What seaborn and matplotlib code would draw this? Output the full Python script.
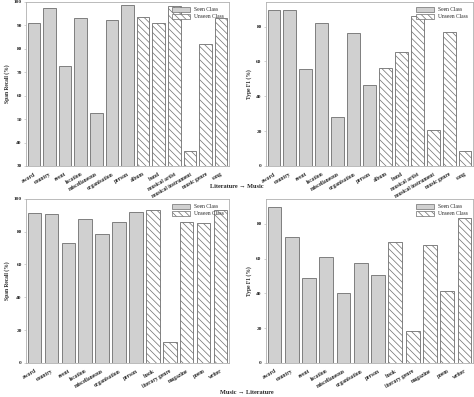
import pandas as pd
import matplotlib
matplotlib.use("Agg")
import matplotlib.pyplot as plt
import seaborn as sns
from matplotlib.patches import Patch

# seen classes shared by both directions
seen_classes = ["award", "country", "event", "location", "miscellaneous",
                "organisation", "person"]

# Literature -> Music
music_unseen = ["album", "band", "musical artist", "musical instrument",
                "music genre", "song"]
lm_recall = [91.0, 97.4, 72.5, 93.0, 52.5, 92.3, 98.7,
             93.4, 91.0, 98.3, 36.2, 82.0, 93.2]
lm_f1 = [89.7, 89.3, 55.8, 82.2, 27.9, 76.5, 46.3,
         56.4, 65.5, 86.4, 20.7, 76.9, 8.7]

# Music -> Literature
lit_unseen = ["book", "literary genre", "magazine", "poem", "writer"]
ml_recall = [91.2, 90.8, 73.3, 87.8, 78.6, 86.2, 91.9,
             93.1, 13.0, 86.0, 85.1, 93.0]
ml_f1 = [89.9, 72.6, 48.7, 61.0, 40.4, 57.3, 50.7,
         69.7, 18.3, 68.0, 41.4, 83.5]

sns.set_style("white")
plt.rcParams["font.family"] = ["Liberation Serif", "DejaVu Sans"]
plt.rcParams["hatch.linewidth"] = 0.5

SEEN_COLOR = "#d0d0d0"
EDGE = "#6e6e6e"
SPINE = "#b0b0b0"
HATCH = "\\\\\\\\\\"


def make_frame(unseen, values):
    cats = seen_classes + unseen
    kind = ["Seen Class"] * len(seen_classes) + ["Unseen Class"] * len(unseen)
    return pd.DataFrame({"category": cats, "value": values, "kind": kind})


def draw_panel(ax, df, ylabel, ylim=None):
    sns.barplot(data=df, x="category", y="value", hue="kind", dodge=False,
                palette={"Seen Class": SEEN_COLOR, "Unseen Class": "white"},
                edgecolor=EDGE, linewidth=0.6, width=0.8, legend=False, ax=ax)
    n_seen = len(seen_classes)
    # hatch the unseen bars (everything right of the seen block)
    for bar in ax.patches:
        if bar.get_height() == 0:
            continue
        idx = round(bar.get_x() + bar.get_width() / 2)
        if idx >= n_seen:
            bar.set_facecolor("white")
            bar.set_hatch(HATCH)
            bar.set_edgecolor(EDGE)
    if ylim is not None:
        ax.set_ylim(*ylim)
    ax.set_xlabel("")
    ax.set_ylabel(ylabel, fontsize=4, fontweight="bold", labelpad=3)
    ax.tick_params(axis="y", labelsize=3.8, length=1.5, width=0.4, pad=1.5,
                   color=SPINE, left=True)
    ax.tick_params(axis="x", labelsize=4, length=0, pad=4)
    for lbl in ax.get_xticklabels():
        lbl.set_rotation(30)
        lbl.set_ha("right")
        lbl.set_rotation_mode("anchor")
    for lbl in ax.get_xticklabels() + ax.get_yticklabels():
        lbl.set_fontweight("bold")
    for s in ax.spines.values():
        s.set_color(SPINE)
        s.set_linewidth(0.6)
    handles = [Patch(facecolor=SEEN_COLOR, edgecolor=EDGE, linewidth=0.5,
                     label="Seen Class"),
               Patch(facecolor="white", edgecolor=EDGE, linewidth=0.5,
                     hatch=HATCH, label="Unseen Class")]
    ax.legend(handles=handles, loc="upper right", frameon=False,
              fontsize=4, handlelength=3.2, handleheight=0.9,
              borderaxespad=0.5, labelspacing=0.35, handletextpad=0.8)


fig = plt.figure(figsize=(4.74, 3.97), dpi=100)
ax_tl = fig.add_axes([0.055, 0.582, 0.428, 0.413])
ax_tr = fig.add_axes([0.561, 0.582, 0.437, 0.413])
ax_bl = fig.add_axes([0.055, 0.086, 0.428, 0.413])
ax_br = fig.add_axes([0.561, 0.086, 0.437, 0.413])

draw_panel(ax_tl, make_frame(music_unseen, lm_recall), "Span Recall (%)", (30, 100))
draw_panel(ax_tr, make_frame(music_unseen, lm_f1), "Type F1 (%)")
draw_panel(ax_bl, make_frame(lit_unseen, ml_recall), "Span Recall (%)", (0, 100))
draw_panel(ax_br, make_frame(lit_unseen, ml_f1), "Type F1 (%)")

fig.text(0.5, 0.531, "Literature \u2192 Music", ha="center", va="center",
         fontsize=4.5, fontweight="bold")
fig.text(0.52, 0.012, "Music \u2192 Literature", ha="center", va="center",
         fontsize=4.5, fontweight="bold")

fig.savefig("out.png", dpi=100)
